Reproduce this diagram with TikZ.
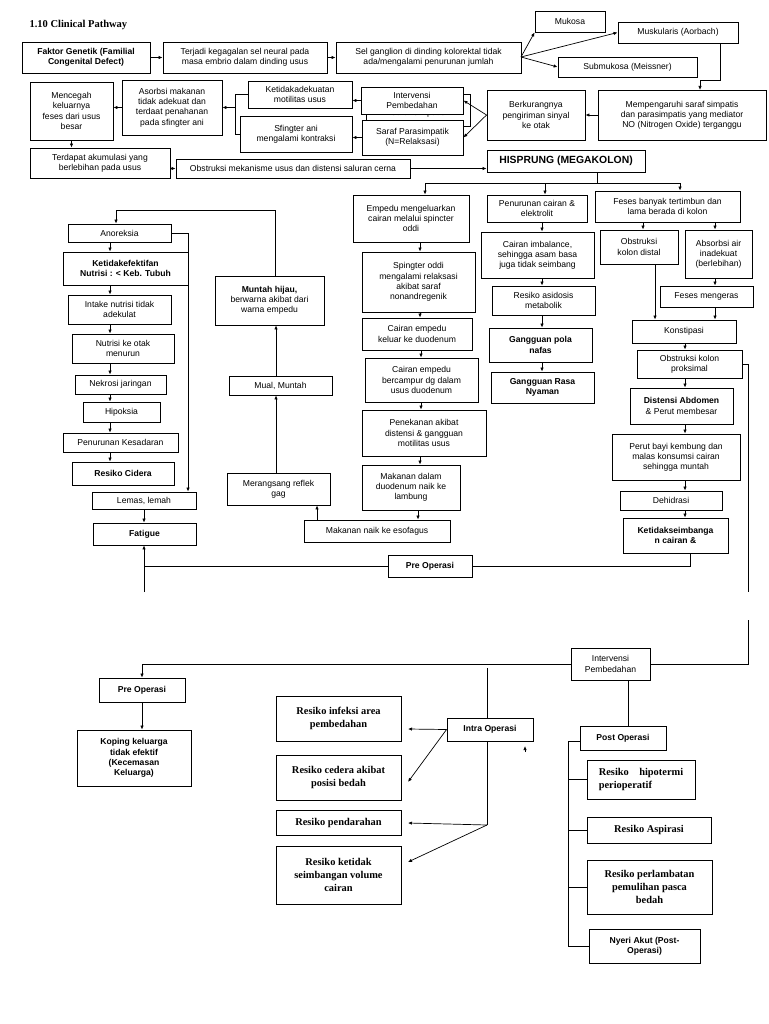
\documentclass[tikz,border=0pt]{standalone}
\usepackage{fontspec}
\setmainfont{Liberation Serif}
\setsansfont{Liberation Sans}
\usetikzlibrary{arrows.meta}
\newcommand\bx[7][]{%
  \pgfmathsetmacro\bw{#5-#3}\pgfmathsetmacro\bh{#6-#4}%
  \node[box,#1,minimum width=\bw pt,minimum height=\bh pt] (#2) at ({(#3+#5)/2},{(#4+#6)/2}) {#7};}
\begin{document}
\begin{tikzpicture}[x=1pt,y=-1pt,
  box/.style={draw,line width=0.9pt,fill=white,inner sep=0pt,align=center,font=\sffamily\fontsize{8.6}{10.2}\selectfont},
  bb/.style={font=\sffamily\bfseries\fontsize{8.6}{10.2}\selectfont},
  sb/.style={font=\rmfamily\bfseries\fontsize{10.4}{12.8}\selectfont},
  ln/.style={line width=0.7pt},
  ar/.style={line width=0.7pt,-{Latex[length=4pt,width=3.4pt]}}]
\useasboundingbox (0,0) rectangle (768,1024);
\node[anchor=west,font=\rmfamily\bfseries\fontsize{10.5}{12}\selectfont] (title) at (26,25) {1.10 Clinical Pathway};
% row 1
\bx[bb]{fak}{22}{42}{150}{73}{Faktor Genetik (Familial\\Congenital Defect)}
\bx{ter}{163}{42}{327}{73}{Terjadi kegagalan sel neural pada\\masa embrio dalam dinding usus}
\bx{sel}{336}{42}{521}{73}{Sel ganglion di dinding kolorektal tidak\\ada/mengalami penurunan jumlah}
\bx{muk}{535}{11}{605}{32}{Mukosa}
\bx{mus}{618}{22}{738}{43}{Muskularis (Aorbach)}
\bx{sub}{558}{57}{697}{77}{Submukosa (Meissner)}
\bx{mem}{598}{90}{766}{140}{Mempengaruhi saraf simpatis\\dan parasimpatis yang mediator\\NO (Nitrogen Oxide) terganggu}
\bx{ber}{487}{90}{585}{140}{Berkurangnya\\pengiriman sinyal\\ke otak}
\bx[anchor=north,text depth=0pt]{sim}{366}{78}{470}{110}{\raisebox{-3pt}{Saraf simpatis}}
\bx{int}{361}{87}{463}{114}{Intervensi\\Pembedahan}
\bx{par}{362}{120}{463}{155}{Saraf Parasimpatik\\(N=Relaksasi)}
\bx{ket}{248}{81}{352}{108}{Ketidakadekuatan\\motilitas usus}
\bx{sfi}{240}{116}{352}{152}{Sfingter ani\\mengalami kontraksi}
\bx{aso}{122}{80}{222}{135}{Asorbsi makanan\\tidak adekuat dan\\terdaat penahanan\\pada sfingter ani}
\bx{mec}{30}{82}{113}{140}{Mencegah\\keluarnya\\feses dari usus\\besar}
\bx{akm}{30}{148}{170}{178}{Terdapat akumulasi yang\\berlebihan pada usus}
\bx{obs}{176}{159}{410}{178}{Obstruksi mekanisme usus dan distensi saluran cerna}
\bx[font=\sffamily\bfseries\fontsize{10.4}{12}\selectfont]{his}{487}{150}{645}{172}{HISPRUNG (MEGAKOLON)}
\draw[ar] (fak) -- (ter);
\draw[ar] (ter) -- (sel);
\coordinate (selo) at (521,57);
\draw[ar] (selo) -- (muk.south west);
\draw[ar] (selo) -- (mus.west);
\draw[ar] (selo) -- (sub.west);
\coordinate (mk) at (720,80);
\draw[ar] (mus.south -| mk) -- (mk) -- (700,80) -- (700,90);
\draw[ar] (mem) -- (ber);
\draw[ar] (ber.west) -- (int.east);
\draw[ar] (ber.west) -- (par.east);
\draw[ar] (int.west) -- (ket.east |- int.west);
\draw[ar] (par.west) -- (sfi.east |- par.west);
\coordinate (br) at (235,95);
\draw[ln] (ket.west) -- (ket.west -| br) |- (sfi.west);
\draw[ar] (br |- aso.east) -- (aso.east);
\draw[ar] (aso.west) -- (mec.east |- aso.west);
\draw[ar] (mec.south) -- (akm.north -| mec.south);
\draw[ar] (akm.east |- obs.west) -- (obs.west);
\draw[ar] (obs.east) -- (his.west |- obs.east);
% column 1
\bx{emp}{353}{195}{469}{242}{Empedu mengeluarkan\\cairan melalui spincter\\oddi}
\bx{spi}{362}{252}{475}{312}{Spingter oddi\\mengalami relaksasi\\akibat saraf\\nonandregenik}
\bx{cai}{362}{318}{472}{350}{Cairan empedu\\keluar ke duodenum}
\bx{cab}{365}{358}{478}{402}{Cairan empedu\\bercampur dg dalam\\usus duodenum}
\bx{pen}{362}{410}{486}{456}{Penekanan akibat\\distensi \& gangguan\\motilitas usus}
\bx{mak}{362}{465}{460}{510}{Makanan dalam\\duodenum naik ke\\lambung}
\bx{eso}{304}{520}{450}{542}{Makanan naik ke esofagus}
% column 2
\bx{pcl}{487}{195}{587}{222}{Penurunan cairan \&\\elektrolit}
\bx{cim}{481}{232}{594}{278}{Cairan imbalance,\\sehingga asam basa\\juga tidak seimbang}
\bx{asi}{492}{286}{595}{315}{Resiko asidosis\\metabolik}
\bx[bb]{gpn}{489}{328}{592}{362}{Gangguan pola\\nafas}
\bx[bb]{grn}{491}{372}{594}{403}{Gangguan Rasa\\Nyaman}
% column 3
\bx{fes}{595}{191}{740}{222}{Feses banyak tertimbun dan\\lama berada di kolon}
\bx{okd}{600}{230}{678}{264}{Obstruksi\\kolon distal}
\bx{abs}{685}{230}{752}{278}{Absorbsi air\\inadekuat\\(berlebihan)}
\bx{fmg}{660}{286}{753}{307}{Feses mengeras}
\bx{kon}{632}{320}{736}{343}{Konstipasi}
\bx{okp}{637}{350}{742}{378}{Obstruksi kolon\\proksimal}
\bx{dis}{630}{388}{733}{424}{\textbf{Distensi Abdomen}\\\& Perut membesar}
\bx{pbk}{612}{434}{740}{480}{Perut bayi kembung dan\\malas konsumsi cairan\\sehingga muntah}
\bx{deh}{620}{491}{722}{510}{Dehidrasi}
\bx[bb]{kse}{623}{518}{728}{553}{Ketidakseimbanga\\n cairan \&}
\coordinate (hb) at (597,183);
\draw[ln] (his.south -| hb) -- (hb);
\draw[ar] (hb) -| (emp.north -| 425,0);
\draw[ar] (hb) -| (pcl.north -| 545,0);
\draw[ar] (hb) -| (fes.north -| 680,0);
\foreach \a/\b/\x in {emp/spi/420,spi/cai/420,cai/cab/421,cab/pen/421,pen/mak/420,mak/eso/418,
  pcl/cim/542,cim/asi/542,asi/gpn/542,gpn/grn/542,
  fes/okd/643,fes/abs/715,abs/fmg/715,fmg/kon/715,okd/kon/655,kon/okp/685,okp/dis/685,dis/pbk/685,pbk/deh/685,deh/kse/685}
  \draw[ar] (\a.south -| \x,0) -- (\b.north -| \x,0);
% left column
\bx{ano}{68}{224}{171}{242}{Anoreksia}
\bx[bb]{ktn}{63}{252}{188}{285}{Ketidakefektifan\\Nutrisi : < Keb. Tubuh}
\bx{itk}{68}{295}{171}{324}{Intake nutrisi tidak\\adekulat}
\bx{nko}{72}{334}{174}{363}{Nutrisi ke otak\\menurun}
\bx{nek}{75}{375}{166}{394}{Nekrosi jaringan}
\bx{hip}{83}{402}{160}{422}{Hipoksia}
\bx{pkz}{63}{433}{178}{452}{Penurunan Kesadaran}
\bx[bb]{rci}{72}{462}{174}{485}{Resiko Cidera}
\bx{lem}{92}{492}{196}{509}{Lemas, lemah}
\bx[bb]{fat}{93}{523}{196}{545}{Fatigue}
\foreach \a/\b in {ano/ktn,ktn/itk,itk/nko,nko/nek,nek/hip,hip/pkz,pkz/rci}
  \draw[ar] (\a.south -| 110,0) -- (\b.north -| 110,0);
\draw[ar] (lem.south -| 144,0) -- (fat.north -| 144,0);
\draw[ar] (ano.east) -| (lem.north -| 188,0);
% middle
\bx[bb]{mhj}{215}{276}{324}{325}{Muntah hijau,\\\mdseries berwarna akibat dari\\\mdseries warna empedu}
\bx{mua}{229}{376}{332}{395}{Mual, Muntah}
\bx{mrg}{227}{473}{330}{505}{Merangsang reflek\\gag}
\draw[ar] (eso.north -| 317,0) -- (mrg.south -| 317,0);
\draw[ar] (mrg.north -| 276,0) -- (mua.south -| 276,0);
\draw[ar] (mua.north -| 276,0) -- (mhj.south -| 276,0);
\coordinate (mt) at (275,210);
\draw[ar] (mhj.north -| mt) -- (mt) -| (ano.north -| 116,0);
% pre operasi top
\bx[bb]{pre}{388}{555}{472}{577}{Pre Operasi}
\coordinate (fb) at (144,592);
\draw[ar] (fb) -- (fat.south -| fb);
\draw[ln] (pre.west) -- (pre.west -| fb);
\draw[ln] (pre.east) -| (kse.south -| 690,0);
\coordinate (rv1) at (748,592);
\coordinate (rv2) at (748,620);
\draw[ln] (okp.east) -| (rv1);
% bottom
\bx{ivp}{571}{648}{650}{680}{Intervensi\\Pembedahan}
\draw[ln] (rv2) |- (ivp.east);
\bx[bb]{pr2}{99}{678}{185}{702}{Pre Operasi}
\bx[bb]{kop}{77}{730}{191}{786}{Koping keluarga\\tidak efektif\\(Kecemasan\\Keluarga)}
\draw[ar] (ivp.west) -| (pr2.north -| 142,0);
\draw[ar] (pr2.south -| 142,0) -- (kop.north -| 142,0);
\bx[bb]{ino}{447}{718}{533}{741}{Intra Operasi}
\coordinate (iv) at (487,668);
\coordinate (ib) at (487,825);
\draw[ln] (iv) -- (ino.north -| iv);
\draw[ln] (ino.south -| ib) -- (ib);
\bx[sb]{rin}{276}{696}{401}{741}{Resiko infeksi area\\pembedahan}
\bx[sb]{rce}{276}{755}{401}{800}{Resiko cedera akibat\\posisi bedah}
\bx[sb]{rpd}{276}{810}{401}{835}{Resiko pendarahan}
\bx[sb]{rks}{276}{846}{401}{904}{Resiko ketidak\\seimbangan volume\\cairan}
\draw[ar] (ino.west) -- (408,729);
\draw[ar] (ino.west) -- (408,782);
\draw[ar] (ib) -- (408,823);
\draw[ar] (ib) -- (408,862);
\coordinate (sa) at (525,752);
\draw[ar] (sa) -- ++(0,-6);
\bx[bb]{pos}{580}{726}{666}{750}{Post Operasi}
\draw[ln] (ivp.south -| 628,0) -- (pos.north -| 628,0);
\bx[sb,align=left]{rhp}{587}{760}{695}{799}{Resiko\ \ \ \ hipotermi\\perioperatif}
\bx[sb]{ras}{587}{817}{711}{843}{Resiko Aspirasi}
\bx[sb]{rpl}{587}{860}{712}{914}{Resiko perlambatan\\pemulihan pasca\\bedah}
\bx[bb]{nye}{589}{929}{700}{963}{Nyeri Akut (Post-\\Operasi)}
\coordinate (pb) at (568,741);
\draw[ln] (pos.west |- pb) -- (pb) -- (568,946) -- (nye.west |- 0,946);
\foreach \n in {rhp,ras,rpl} \draw[ln] (\n.west) -- (\n.west -| pb);
\end{tikzpicture}
\end{document}
